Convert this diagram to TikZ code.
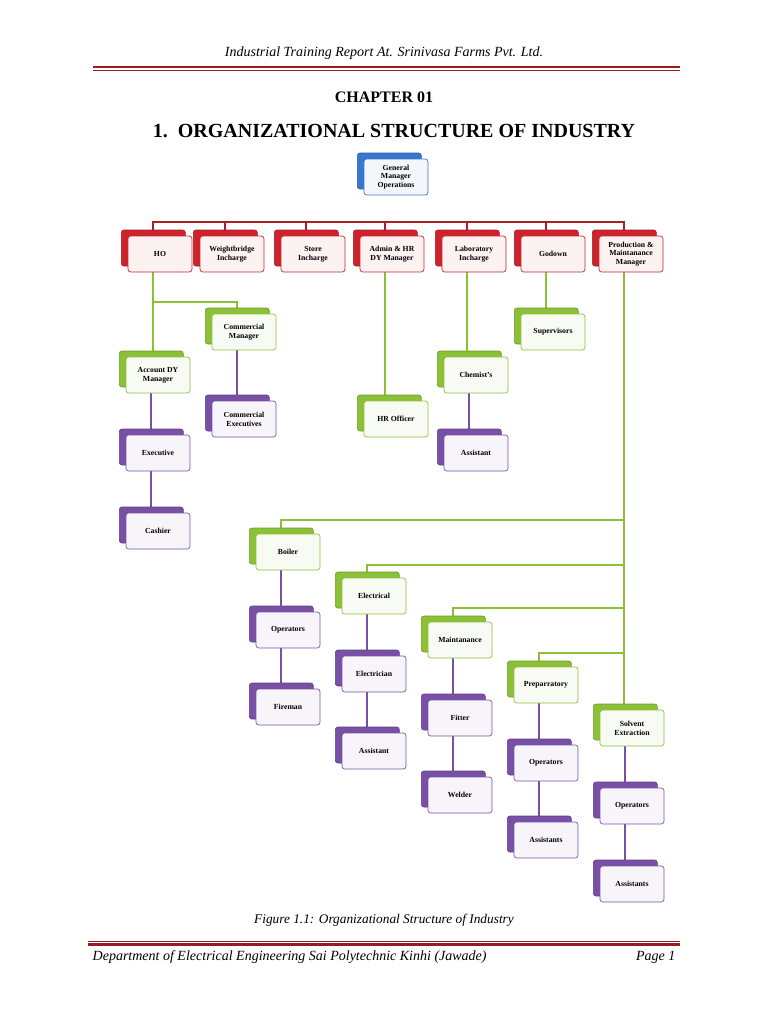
\documentclass[tikz,border=0pt]{standalone}
\usepackage{fontspec}
\setmainfont{Liberation Serif}
\usetikzlibrary{shadows,backgrounds}
\definecolor{hdred}{RGB}{150,30,35}
\definecolor{boxred}{RGB}{205,35,45}
\definecolor{boxgreen}{RGB}{140,192,55}
\definecolor{boxpurple}{RGB}{120,80,165}
\definecolor{boxblue}{RGB}{55,120,205}
\tikzset{
  orgbox/.style={draw=#1, fill=#1!6, rounded corners=2pt, line width=0.5pt,
    minimum width=48pt, minimum height=27pt, align=center,
    font=\fontsize{5.8}{6.6}\selectfont\bfseries,
    copy shadow={shadow xshift=-5pt, shadow yshift=4.5pt, fill=#1, draw=#1!80!black}},
  redbox/.style={orgbox=boxred},
  greenbox/.style={orgbox=boxgreen},
  purplebox/.style={orgbox=boxpurple},
  bluebox/.style={orgbox=boxblue},
  redline/.style={boxred!85!black, line width=1.4pt},
  greenline/.style={boxgreen, line width=1.4pt},
  purpleline/.style={boxpurple, line width=1.4pt}
}
\begin{document}
\begin{tikzpicture}[x=0.75pt,y=-0.75pt]
  \useasboundingbox (0,0) rectangle (768,1024);

  % header and footer
  \node (header) at (384,53) {\fontsize{10.5}{12}\selectfont\itshape Industrial Training Report At. Srinivasa Farms Pvt. Ltd.};
  \draw[hdred, line width=2pt] (93,67) -- (680,67);
  \draw[hdred, line width=0.5pt] (93,70.5) -- (680,70.5);
  \node (chapter) at (384,97) {\fontsize{12}{14}\selectfont\bfseries CHAPTER 01};
  \node (title) at (394,131) {\fontsize{15}{18}\selectfont\bfseries 1.\ \ ORGANIZATIONAL STRUCTURE OF INDUSTRY};
  \node (caption) at (384,920) {\fontsize{10}{12}\selectfont\itshape Figure 1.1: Organizational Structure of Industry};
  \draw[hdred, line width=0.5pt] (88,941) -- (680,941);
  \draw[hdred, line width=2pt] (88,944.5) -- (680,944.5);
  \node[anchor=west] (footl) at (88,957) {\fontsize{10.5}{12}\selectfont\itshape Department of Electrical Engineering Sai Polytechnic Kinhi (Jawade)};
  \node[anchor=east] (footr) at (680,957) {\fontsize{10.5}{12}\selectfont\itshape Page 1};

  % top levels
  \node[bluebox] (gm) at (396,177) {General\\Manager\\Operations};
  \node[redbox] (ho) at (160,254) {HO};
  \node[redbox] (wb) at (232,254) {Weightbridge\\Incharge};
  \node[redbox] (store) at (313,254) {Store\\Incharge};
  \node[redbox] (admin) at (392,254) {Admin \& HR\\DY Manager};
  \node[redbox] (lab) at (474,254) {Laboratory\\Incharge};
  \node[redbox] (godown) at (553,254) {Godown};
  \node[redbox] (prod) at (631,254) {Production \&\\Maintanance\\Manager};

  % second levels
  \node[greenbox] (cm) at (244,332) {Commercial\\Manager};
  \node[greenbox] (acc) at (158,375) {Account DY\\Manager};
  \node[purplebox] (ce) at (244,419) {Commercial\\Executives};
  \node[purplebox] (exe) at (158,453) {Executive};
  \node[purplebox] (cash) at (158,531) {Cashier};
  \node[greenbox] (hro) at (396,419) {HR Officer};
  \node[greenbox] (chem) at (476,375) {Chemist's};
  \node[purplebox] (labas) at (476,453) {Assistant};
  \node[greenbox] (sup) at (553,332) {Supervisors};

  % production branch
  \node[greenbox] (boiler) at (288,552) {Boiler};
  \node[purplebox] (bop) at (288,630) {Operators};
  \node[purplebox] (fire) at (288,707) {Fireman};
  \node[greenbox] (elec) at (374,596) {Electrical};
  \node[purplebox] (elcn) at (374,674) {Electrician};
  \node[purplebox] (elas) at (374,751) {Assistant};
  \node[greenbox] (main) at (460,640) {Maintanance};
  \node[purplebox] (fit) at (460,718) {Fitter};
  \node[purplebox] (weld) at (460,795) {Welder};
  \node[greenbox] (prep) at (546,685) {Preparratory};
  \node[purplebox] (pop) at (546,763) {Operators};
  \node[purplebox] (pas) at (546,840) {Assistants};
  \node[greenbox] (solv) at (632,728) {Solvent\\Extraction};
  \node[purplebox] (sop) at (632,806) {Operators};
  \node[purplebox] (sas) at (632,884) {Assistants};

  \begin{scope}[on background layer]
    % red bus
    \draw[redline] ([xshift=-5pt]gm.south) -- ++(0,-26);
    \foreach \n in {ho,wb,store,admin,lab,godown,prod}
      \draw[redline] ([xshift=-5pt]\n.north) |- ([xshift=-5pt]gm.south |- 0,222);
    % green lines
    \foreach \a/\b in {ho/acc,admin/hro,lab/chem,godown/sup,prod/solv}
      \draw[greenline] ([xshift=-5pt]\a.south) -- ([xshift=-5pt]\a.south |- \b.north);
    \draw[greenline] (153,302) -| ([xshift=-5pt]cm.north);
    \draw[greenline] (625,520) -| ([xshift=-5pt]boiler.north);
    \draw[greenline] (625,565) -| ([xshift=-5pt]elec.north);
    \draw[greenline] (625,608) -| ([xshift=-5pt]main.north);
    \draw[greenline] (625,653) -| ([xshift=-5pt]prep.north);
    % purple lines
    \foreach \a/\b in {cm/ce,acc/exe,exe/cash,chem/labas,boiler/bop,bop/fire,
        elec/elcn,elcn/elas,main/fit,fit/weld,prep/pop,pop/pas,solv/sop,sop/sas}
      \draw[purpleline] ([xshift=-5pt]\a.south) -- ([xshift=-5pt]\a.south |- \b.north);
  \end{scope}
\end{tikzpicture}
\end{document}
